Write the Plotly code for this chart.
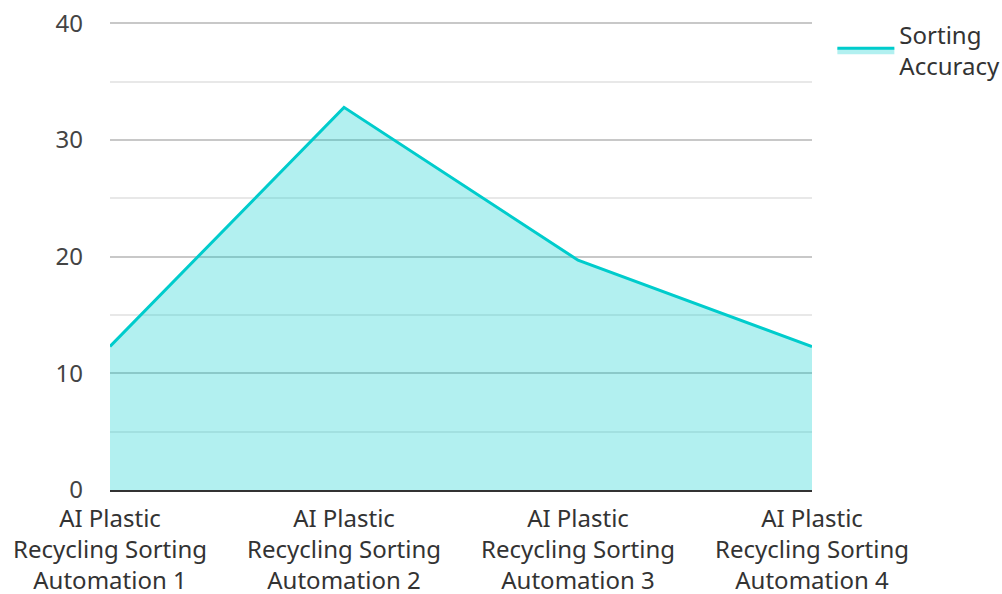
import plotly.graph_objects as go

categories = [
    "AI Plastic<br>Recycling Sorting<br>Automation 1",
    "AI Plastic<br>Recycling Sorting<br>Automation 2",
    "AI Plastic<br>Recycling Sorting<br>Automation 3",
    "AI Plastic<br>Recycling Sorting<br>Automation 4",
]
accuracy = [12.3, 32.8, 19.7, 12.3]
series_name = "Sorting<br>Accuracy"
y_ticks = [0, 10, 20, 30, 40]

fig = go.Figure()
fig.add_trace(go.Scatter(
    x=list(range(len(categories))),
    y=accuracy,
    mode="lines",
    name=series_name,
    fill="tozeroy",
    fillcolor="rgba(0,204,204,0.3)",
    line=dict(color="#00cccc", width=3),
))

fig.update_layout(
    width=1002, height=594,
    margin=dict(l=110, r=190, t=21, b=104, autoexpand=False),
    paper_bgcolor="white", plot_bgcolor="white",
    font=dict(family="Noto Sans", size=24, color="#333"),
    showlegend=True,
    legend=dict(x=1.029, y=1.018, xanchor="left", yanchor="top",
                font=dict(size=24, color="#333"), bgcolor="rgba(0,0,0,0)",
                itemwidth=57, traceorder="normal"),
    xaxis=dict(
        tickmode="array",
        tickvals=list(range(len(categories))),
        ticktext=categories,
        range=[0, len(categories) - 1],
        showgrid=False, zeroline=False,
        showline=True, linecolor="#333", linewidth=2,
        tickfont=dict(size=24, color="#333"),
        ticks="",
        ticklabelstandoff=6,
        automargin=False,
    ),
    yaxis=dict(
        range=[0, 40.2],
        tickvals=y_ticks,
        showgrid=True, gridcolor="#c8c8c8", gridwidth=2,
        minor=dict(dtick=5, showgrid=True, gridcolor="#e8e8e8", gridwidth=2),
        zeroline=False, showline=False,
        tickfont=dict(size=24, color="#444"),
        ticklabelstandoff=26,
        automargin=False,
    ),
)

fig.write_html("out.html")
